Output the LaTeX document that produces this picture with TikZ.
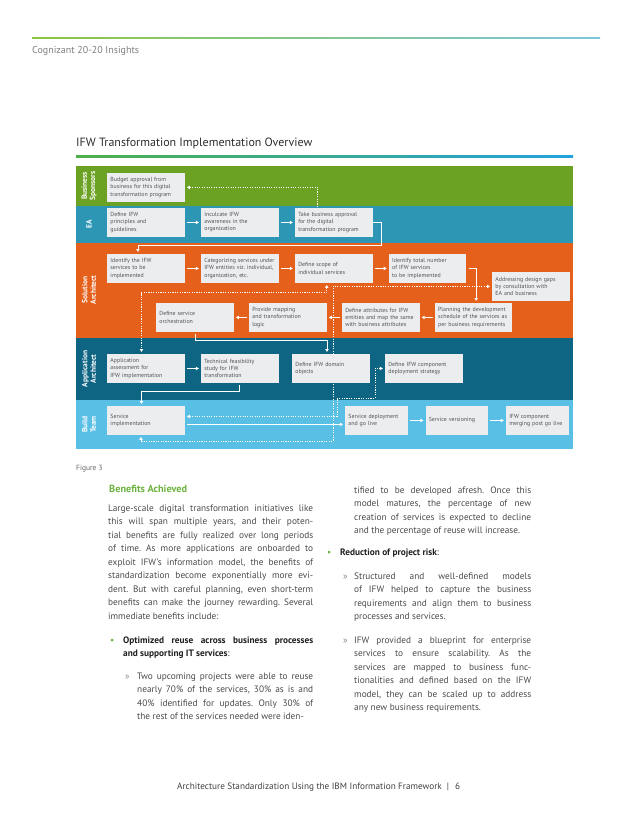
\documentclass[tikz,border=0pt]{standalone}
\usepackage{fontspec}
\setmainfont{PT Sans}
\usepackage{xcolor}
\usetikzlibrary{arrows.meta, positioning}
\definecolor{sponsor}{HTML}{6CA224}
\definecolor{ealane}{HTML}{2D96B5}
\definecolor{solution}{HTML}{E5601B}
\definecolor{appl}{HTML}{0E6483}
\definecolor{buildlane}{HTML}{5ABFE5}
\definecolor{boxfill}{HTML}{ECEDEF}
\definecolor{boxtext}{HTML}{4F5358}
\definecolor{bodytext}{HTML}{4A4A4A}
\definecolor{headgreen}{HTML}{6DB33F}
\definecolor{rulegreen}{HTML}{4DB04B}
\definecolor{ruleblue}{HTML}{22A3DD}
\definecolor{topgreen}{HTML}{8DC641}
\definecolor{topblue}{HTML}{7CC6DE}
\pgfdeclarelayer{bands}
\pgfdeclarelayer{links}
\pgfsetlayers{bands,links,main}
\frenchspacing

\begin{document}
\begin{tikzpicture}[
    x=1pt, y=-1pt,
    >={Triangle[length=3pt, width=3.4pt]},
    stage/.style={fill=boxfill, text=boxtext, text width=71pt, inner xsep=3.25pt,
                  minimum height=28.5pt, align=left, anchor=north west,
                  font=\fontsize{5.9}{7.1}\selectfont},
    short/.style={stage, text width=56pt},
    lane/.style={rotate=90, text=white, align=center,
                 font=\bfseries\fontsize{7.5}{8.3}\selectfont},
    arrow/.style={->, white, line width=0.9pt, shorten <=2pt, shorten >=2pt},
    dotlink/.style={white, line width=0.9pt, dash pattern=on 1.1pt off 1.3pt,
                    shorten <=2pt, shorten >=2pt},
    body/.style={anchor=base west, inner sep=0pt, text=bodytext, align=justify,
                 font=\fontsize{9.3}{13.5}\selectfont},
    bulletsym/.style={anchor=base west, inner sep=0pt, font=\fontsize{9.3}{13.5}\selectfont},
    node distance=16pt,
]
    \useasboundingbox (0,0) rectangle (638,826);
    \begin{pgfonlayer}{bands}
        \fill[white] (0,0) rectangle (638,826);
        \fill[sponsor]   (76,166) rectangle (573,206);
        \fill[ealane]    (76,206) rectangle (573,243);
        \fill[solution]  (76,243) rectangle (573,338);
        \fill[appl]      (76,338) rectangle (573,400);
        \fill[buildlane] (76,400) rectangle (573,449);
    \end{pgfonlayer}

    \shade[left color=topgreen, right color=topblue] (32,37.4) rectangle (600,38.6);
    \node[anchor=base west, inner sep=0pt, text=black!50, font=\fontsize{10}{12}\selectfont]
        (brand) at (32,54) {Cognizant 20-20 Insights};
    \node[anchor=base west, inner sep=0pt, text=black!82, font=\fontsize{12}{14}\selectfont]
        (title) at (76,147) {IFW Transformation Implementation Overview};
    \shade[left color=rulegreen, right color=ruleblue] (76,156) rectangle (573,158);

    \node[lane] (lanesponsor)  at (89,186)   {Business\\Sponsors};
    \node[lane] (laneea)       at (89,224.5) {EA};
    \node[lane] (lanesolution) at (89,290)   {Solution\\Architect};
    \node[lane] (laneapp)      at (89,369)   {Application\\Architect};
    \node[lane] (lanebuild)    at (89,424.5) {Build\\Team};

    \node[stage] (budget) at (107,173) {Budget approval from\\business for this digital\\transformation program};

    \node[stage] (defifw) at (107,208) {Define IFW\\principles and\\guidelines};
    \node[stage, right=of defifw]    (inculcate) {Inculcate IFW\\awareness in the\\organization};
    \node[stage, right=of inculcate] (takeappr)  {Take business approval\\for the digital\\transformation program};

    \node[stage] (identify) at (107,254) {Identify the IFW\\services to be\\implemented};
    \node[stage, right=of identify]   (categorize) {Categorizing services under\\IFW entities viz. individual,\\organization, etc.};
    \node[stage, right=of categorize] (scope)      {Define scope of\\individual services};
    \node[stage, right=of scope]      (total)      {Identify total number\\of IFW services\\to be implemented};
    \node[stage] (addressing) at (492,272) {Addressing design gaps\\by consultation with\\EA and business};

    \node[stage] (orchestr) at (156,303) {Define service\\orchestration};
    \node[stage, right=15pt of orchestr] (mapping)  {Provide mapping\\and transformation\\logic};
    \node[stage, right=15pt of mapping]  (attrs)    {Define attributes for IFW\\entities and map the same\\with business attributes};
    \node[stage, right=15pt of attrs]    (planning) {Planning the development\\schedule of the services as\\per business requirements};

    \node[stage] (appassess) at (107,354) {Application\\assessment for\\IFW implementation};
    \node[stage, right=of appassess] (techfeas) {Technical feasibility\\study for IFW\\transformation};
    \node[stage] (domain) at (292,354) {Define IFW domain\\objects};
    \node[stage, right=15pt of domain] (compdeploy) {Define IFW component\\deployment strategy};

    \node[stage] (service) at (107,406) {Service\\implementation};
    \node[short] (deploy) at (345,406) {Service deployment\\and go live};
    \node[short, right=17.5pt of deploy]     (versioning) {Service versioning};
    \node[short, right=17.5pt of versioning] (merging)    {IFW component\\merging post go live};

    \coordinate (approvalturn) at (381,245);
    \coordinate (gapdrop) at (333,441);
    \coordinate (deployturn) at (337,398);

    \begin{pgfonlayer}{links}
        \foreach \a/\b in {defifw/inculcate, inculcate/takeappr, identify/categorize,
                           categorize/scope, scope/total, planning/attrs, attrs/mapping,
                           mapping/orchestr, appassess/techfeas, deploy/versioning,
                           versioning/merging}
            \draw[arrow] (\a) -- (\b);
        \draw[arrow, line width=0.7pt, shorten <=0pt] (takeappr.east) -| (approvalturn)
            -| ([xshift=-8pt]identify.north);
        \draw[arrow] (total.east) -| ([xshift=2.5pt]planning.north);
        \draw[arrow] (orchestr.south) -- ++(0,9) -| ([xshift=-4pt]domain.north);
        \draw[arrow] (techfeas.south) -- ++(0,9) -| ([xshift=-4.5pt]service.north);
        \draw[arrow] ([yshift=-4pt]service.east) -- ([yshift=-4pt]deploy.west);
        \draw[dotlink, <-] (budget.east) -| ([xshift=-16pt]takeappr.north);
        \draw[dotlink, <->] ([xshift=-7pt]scope.south) -- ++(0,10)
            -| ([xshift=-4.5pt]appassess.north);
        \draw[dotlink, <->] (addressing.west) -| (gapdrop) -| ([xshift=-5pt]service.south);
        \draw[dotlink, <->] ([yshift=4pt]service.east) -| (deployturn) -- ++(38,0)
            |- (compdeploy.west);
    \end{pgfonlayer}

    \node[anchor=base west, inner sep=0pt, text=black!60, font=\fontsize{7.5}{9}\selectfont]
        (figlabel) at (76,470) {Figure 3};
    \node[anchor=base west, inner sep=0pt, text=headgreen, font=\bfseries\fontsize{10.3}{12}\selectfont]
        (benefits) at (109,492) {Benefits Achieved};
    \node[body, text width=205pt] (intro) at (108,511)
        {Large-scale digital transformation initiatives like\linebreak
         this will span multiple years, and their poten-\linebreak
         tial benefits are fully realized over long periods\linebreak
         of time. As more applications are onboarded to\linebreak
         exploit IFW's information model, the benefits of\linebreak
         standardization become exponentially more evi-\linebreak
         dent. But with careful planning, even short-term\linebreak
         benefits can make the journey rewarding. Several\linebreak
         immediate benefits include:};
    \node[bulletsym, text=headgreen] (dotone) at (110,643) {•};
    \node[body, text width=190pt, text=black!88] (reuse) at (123,643)
        {\textbf{Optimized reuse across business processes}\linebreak
         \textbf{and supporting IT services}:};
    \node[bulletsym, text=black!45] (subone) at (125,679) {»};
    \node[body, text width=176pt] (twoproj) at (137,679)
        {\parfillskip=0pt Two upcoming projects were able to reuse\linebreak
         nearly 70\% of the services, 30\% as is and\linebreak
         40\% identified for updates. Only 30\% of\linebreak
         the rest of the services needed were iden-};

    \node[body, text width=177pt] (afresh) at (354,493)
        {\parfillskip=0pt tified to be developed afresh. Once this\linebreak
         model matures, the percentage of new\linebreak
         creation of services is expected to decline\linebreak
         and the percentage of reuse will increase.};
    \node[bulletsym, text=headgreen] (dottwo) at (327,555) {•};
    \node[bulletsym, text=black!88] (risk) at (340,555) {\textbf{Reduction of project risk}:};
    \node[bulletsym, text=black!45] (subtwo) at (343,579) {»};
    \node[body, text width=177pt] (structured) at (354,579)
        {Structured and well-defined models\linebreak
         of IFW helped to capture the business\linebreak
         requirements and align them to business\linebreak
         processes and services.};
    \node[bulletsym, text=black!45] (subthree) at (343,643) {»};
    \node[body, text width=177pt] (blueprint) at (354,643)
        {IFW provided a blueprint for enterprise\linebreak
         services to ensure scalability. As the\linebreak
         services are mapped to business func-\linebreak
         tionalities and defined based on the IFW\linebreak
         model, they can be scaled up to address\linebreak
         any new business requirements.};

    \node[anchor=base west, inner sep=0pt, text=black!75, font=\fontsize{9.2}{11}\selectfont]
        (footer) at (177,789) {Architecture Standardization Using the IBM Information Framework\hspace{5pt}|\hspace{6pt}6};
\end{tikzpicture}
\end{document}
